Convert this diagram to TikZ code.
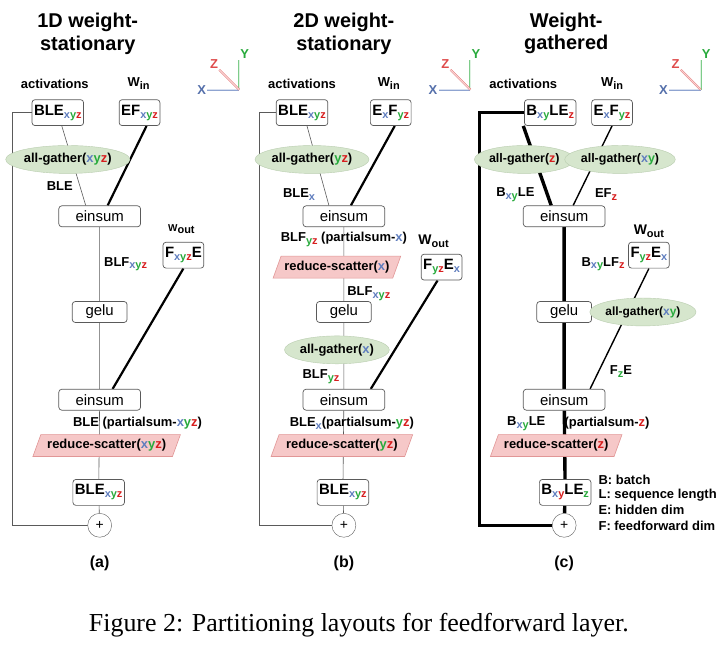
\documentclass[tikz,border=0pt]{standalone}
\usepackage{fontspec}
\setmainfont{Liberation Serif}
\newfontfamily\sans{Liberation Sans}
\usetikzlibrary{shapes.geometric,calc}
\definecolor{xc}{RGB}{95,125,190}
\definecolor{yc}{RGB}{40,170,60}
\definecolor{zc}{RGB}{215,30,30}
\definecolor{agf}{RGB}{214,230,205}
\definecolor{agd}{RGB}{185,205,175}
\definecolor{rsf}{RGB}{246,200,200}
\definecolor{rsd}{RGB}{225,150,150}
\definecolor{bd}{RGB}{90,90,90}
\newcommand{\cx}{\textcolor{xc}{x}}
\newcommand{\cy}{\textcolor{yc}{y}}
\newcommand{\cz}{\textcolor{zc}{z}}
\newcommand{\sbs}[1]{\raisebox{-.4ex}{\fontsize{11}{11}\selectfont #1}}
\newcommand{\para}[2]{\filldraw[fill=rsf,draw=rsd,line width=.6pt] ($(#1)+(-#2-8,11)$) -- ($(#1)+(#2,11)$) -- ($(#1)+(#2+8,-11)$) -- ($(#1)+(-#2,-11)$) -- cycle;}
\pgfdeclarelayer{bg}
\pgfdeclarelayer{mid}
\pgfsetlayers{bg,mid,main}
\begin{document}
\begin{tikzpicture}[x=1pt,y=-1pt,
 every node/.style={font=\sans\bfseries\fontsize{13}{15}\selectfont},
 box/.style={draw=bd,rounded corners=3pt,fill=white,line width=.7pt,minimum height=26,inner sep=2pt,font=\sans\bfseries\fontsize{15}{17}\selectfont},
 op/.style={draw=bd,rounded corners=3pt,fill=white,line width=.7pt,minimum height=21,inner sep=2pt,font=\sans\fontsize{15}{17}\selectfont},
 ag/.style={ellipse,draw=agd,fill=agf,minimum height=28,inner sep=0pt},
 rs/.style={inner sep=1pt},
 tt/.style={font=\sans\bfseries\fontsize{20}{22}\selectfont},
 pl/.style={circle,draw=bd,fill=white,minimum size=24,inner sep=0pt,font=\sans\fontsize{14}{14}\selectfont},
 thin/.style={line width=.6pt,draw=bd},
 thick/.style={line width=2.2pt},
 vthick/.style={line width=3.4pt},
 ax/.style={double,double distance=1.2pt,line width=.4pt}]
\begin{pgfonlayer}{bg}
\path[use as bounding box,fill=white] (0,0) rectangle (720,652);
\end{pgfonlayer}
% axis icons
\foreach \o/\n in {240/a,472/b,703/c}{
 \coordinate (O\n) at (\o,90);
 \draw[ax,draw=xc!70,double=xc!25] (O\n) -- ++(-32,0) coordinate (X\n);
 \draw[ax,draw=yc!60,double=yc!15] (O\n) -- ++(0,-30) coordinate (Y\n);
 \draw[ax,draw=zc!70,double=zc!20] (O\n) -- ++(-20,-20) coordinate (Z\n);
 \node[text=xc!90!black,anchor=east,inner sep=1pt] (xl\n) at (X\n) {X};
 \node[text=yc,anchor=south west,inner sep=1pt] (yl\n) at (Y\n) {Y};
 \node[text=zc!80,anchor=south east,inner sep=1pt] (zl\n) at (Z\n) {Z};
}
% ================= (a)
\node[tt] (ta1) at (88,22) {1D weight-};
\node[tt] (ta2) at (88,45) {stationary};
\node (aact) at (55,84) {activations};
\node (awin) at (139,84) {W\sbs{in}};
\node[box] (aA) at (58,113) {BLE\sbs{\cx\cy\cz}};
\node[box] (aW) at (140,113) {EF\sbs{\cx\cy\cz}};
\node[ag,minimum width=108] (aag) at (68,160) {all-gather(\cx\cy\cz)};
\node (aBLE) at (60,187) {BLE};
\node[op,minimum width=82] (ae1) at (100,217) {einsum};
\node[font=\sans\bfseries\fontsize{10}{12}\selectfont] (awout) at (182,230) {W\sbs{out}};
\node[box] (aWo) at (184,256) {F\sbs{\cx\cy\cz}E};
\node (aBLF) at (126,265) {BLF\sbs{\cx\cy\cz}};
\node[op,minimum width=55] (agelu) at (100,313) {gelu};
\node[op,minimum width=82] (ae2) at (100,401) {einsum};
\node (aps) at (138,425) {BLE (partialsum-\cx\cy\cz)};
\node[rs] (ars) at (107,447) {reduce-scatter(\cx\cy\cz)};
\node[box] (aO) at (99,494) {BLE\sbs{\cx\cy\cz}};
\node[pl] (apl) at (100,527) {+};
\coordinate (aL1) at (12,113);
\coordinate (aL2) at (12,527);
\node[font=\sans\bfseries\fontsize{16}{18}\selectfont] (alab) at (100,565) {(a)};
\begin{pgfonlayer}{bg}
\draw[thin] ([xshift=4]aA.south) -- ([xshift=-14]ae1.north);
\draw[thick] ([xshift=7]aW.south) -- ([xshift=8]ae1.north);
\draw[thin] (ae1) -- (agelu) -- (ae2) -- (aO) -- (apl);
\draw[thick] (aWo.south) -- ([xshift=13]ae2.north);
\draw[thin] (aA.west) -- (aL1) -- (aL2) -- (apl.west);
\end{pgfonlayer}
\begin{pgfonlayer}{mid}\para{ars}{66}\end{pgfonlayer}
% ================= (b)
\node[tt] (tb1) at (345,22) {2D weight-};
\node[tt] (tb2) at (345,45) {stationary};
\node (bact) at (303,84) {activations};
\node (bwin) at (390,84) {W\sbs{in}};
\node[box] (bA) at (303,113) {BLE\sbs{\cx\cy\cz}};
\node[box] (bW) at (392,113) {E\sbs{\cx}F\sbs{\cy\cz}};
\node[ag,minimum width=92] (bag) at (313,160) {all-gather(\cy\cz)};
\node (bBLE) at (300,195) {BLE\sbs{\cx}};
\node[op,minimum width=82] (be1) at (345,217) {einsum};
\node (bps) at (345,240) {BLF\sbs{\cy\cz} (partialsum-\cx)};
\node[font=\sans\bfseries\fontsize{14}{16}\selectfont] (bwout) at (435,242) {W\sbs{out}};
\node[box] (bWo) at (443,268) {F\sbs{\cy\cz}E\sbs{\cx}};
\node[rs] (brs) at (338,268) {reduce-scatter(\cx)};
\node (bBLF) at (370,295) {BLF\sbs{\cx\cy\cz}};
\node[op,minimum width=55] (bgelu) at (345,313) {gelu};
\node[ag,minimum width=82] (bag2) at (338,351) {all-gather(\cx)};
\node (bBLF2) at (322,378) {BLF\sbs{\cy\cz}};
\node[op,minimum width=82] (be2) at (345,401) {einsum};
\node (bps2) at (353,425) {BLE\sbs{\cx}(partialsum-\cy\cz)};
\node[rs] (brs2) at (343,447) {reduce-scatter(\cy\cz)};
\node[box] (bO) at (344,494) {BLE\sbs{\cx\cy\cz}};
\node[pl] (bpl) at (345,527) {+};
\coordinate (bL1) at (260,113);
\coordinate (bL2) at (260,527);
\node[font=\sans\bfseries\fontsize{16}{18}\selectfont] (blab) at (345,565) {(b)};
\begin{pgfonlayer}{bg}
\draw[thin] ([xshift=5]bA.south) -- ([xshift=-15]be1.north);
\draw[thick] ([xshift=4]bW.south) -- ([xshift=7]be1.north);
\draw[thin] (be1) -- (bgelu) -- (be2) -- (bO) -- (bpl);
\draw[thick] ([xshift=-4]bWo.south) -- ([xshift=27]be2.north);
\draw[thin] (bA.west) -- (bL1) -- (bL2) -- (bpl.west);
\end{pgfonlayer}
\begin{pgfonlayer}{mid}\para{brs}{56}\para{brs2}{63}\end{pgfonlayer}
% ================= (c)
\node[tt] (tc1) at (568,22) {Weight-};
\node[tt] (tc2) at (568,45) {gathered};
\node (cact) at (525,84) {activations};
\node (cwin) at (614,84) {W\sbs{in}};
\node[box] (cA) at (552,113) {B\sbs{\cx\cy}LE\sbs{\cz}};
\node[box] (cW) at (614,113) {E\sbs{\cx}F\sbs{\cy\cz}};
\node[ag,minimum width=84,font=\sans\bfseries\fontsize{12.5}{14}\selectfont] (cag1) at (526,160) {all-gather(\cz)};
\node[ag,minimum width=88,font=\sans\bfseries\fontsize{12.5}{14}\selectfont] (cag2) at (622,160) {all-gather(\cx\cy)};
\node (cBLE) at (517,195) {B\sbs{\cx\cy}LE};
\node (cEF) at (608,195) {EF\sbs{\cz}};
\node[op,minimum width=82] (ce1) at (566,217) {einsum};
\node[font=\sans\bfseries\fontsize{14}{16}\selectfont] (cwout) at (651,232) {W\sbs{out}};
\node[box] (cWo) at (651,256) {F\sbs{\cy\cz}E\sbs{\cx}};
\node (cBLF) at (605,265) {B\sbs{\cx\cy}LF\sbs{\cz}};
\node[op,minimum width=55] (cgelu) at (566,313) {gelu};
\node[ag,minimum width=80,font=\sans\bfseries\fontsize{12}{14}\selectfont] (cag3) at (645,313) {all-gather(\cx\cy)};
\node (cFE) at (623,373) {F\sbs{\textcolor{yc}{z}}E};
\node[op,minimum width=82] (ce2) at (566,401) {einsum};
\node (cps1) at (528,425) {B\sbs{\cx\cy}LE};
\node (cps2) at (609,425) {(partialsum-\cz)};
\node[rs] (crs) at (558,447) {reduce-scatter(\cz)};
\node[box] (cO) at (567,494) {B\sbs{\cx\textcolor{zc}{y}}LE\sbs{\textcolor{yc}{z}}};
\node[pl] (cpl) at (566,527) {+};
\node[anchor=west] (lg1) at (597,481) {B: batch};
\node[anchor=west] (lg2) at (597,497) {L: sequence length};
\node[anchor=west] (lg3) at (597,512) {E: hidden dim};
\node[anchor=west] (lg4) at (597,528) {F: feedforward dim};
\coordinate (cL1) at (481,113);
\coordinate (cL2) at (481,527);
\node[font=\sans\bfseries\fontsize{16}{18}\selectfont] (clab) at (566,565) {(c)};
\begin{pgfonlayer}{bg}
\draw[vthick] ([xshift=-27]cA.south) -- ([xshift=-13]ce1.north);
\draw[thick,line width=1.4pt] (cW.south) -- ([xshift=9]ce1.north);
\draw[vthick] (ce1) -- (cgelu) -- (ce2) -- (cO) -- (cpl);
\draw[thick,line width=1.4pt] (cWo.south) -- ([xshift=26]ce2.north);
\draw[vthick] (cA.west) -- (cL1) -- (cL2) -- (cpl.west);
\end{pgfonlayer}
\begin{pgfonlayer}{mid}\para{crs}{58}\end{pgfonlayer}
% caption
\node[font=\fontsize{26}{30}\selectfont] (cap) at (360,627) {Figure 2: Partitioning layouts for feedforward layer.};
\end{tikzpicture}
\end{document}
